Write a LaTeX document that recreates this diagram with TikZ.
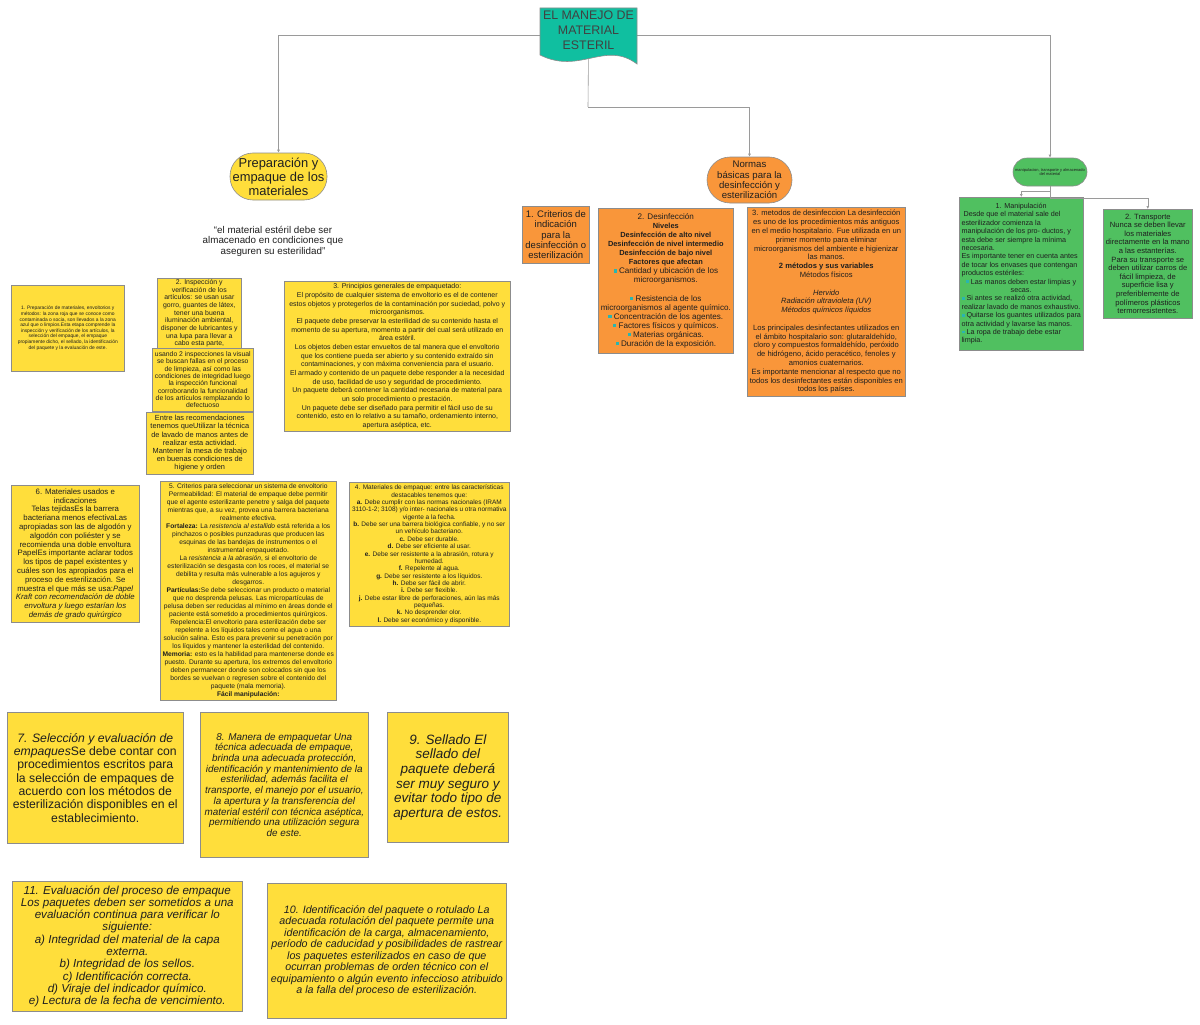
\documentclass[tikz,border=0pt]{standalone}
\usepackage{fontspec}
\setmainfont{Liberation Sans}
\usetikzlibrary{arrows.meta}

\definecolor{boxyellow}{HTML}{FFDE3B}
\definecolor{boxorange}{HTML}{F9963A}
\definecolor{boxgreen}{HTML}{50C060}
\definecolor{titleteal}{HTML}{10BFA0}
\definecolor{boxgray}{HTML}{8C8C8C}
\definecolor{linegray}{HTML}{9A9A9A}
\definecolor{textdark}{HTML}{1F1F1F}
\definecolor{bulletteal}{HTML}{2AB5B0}

\newcommand{\fz}[2]{\fontsize{#1}{#2}\selectfont}
\newcommand{\bul}{{\color{bulletteal}\rule[0.15em]{0.4em}{0.4em}}\ }
\newcommand{\nivel}[1]{{\fz{7.4}{9.1}\bfseries #1}}

\tikzset{
	conn/.style={draw=linegray, line width=0.6pt},
	arr/.style={conn, -{Latex[length=3pt,width=3pt]}},
	box/.style={draw=boxgray, line width=0.6pt, align=center, inner sep=1pt, anchor=north west, text=textdark},
	ybox/.style={box, fill=boxyellow},
	obox/.style={box, fill=boxorange},
	gbox/.style={box, fill=boxgreen},
	pill/.style={draw=boxgray, line width=0.6pt, align=center, inner sep=1pt, text=textdark}
}

\begin{document}
\begin{tikzpicture}[x=1pt,y=-1pt]
	\fill[white] (0,0) rectangle (1200,1025);
	\useasboundingbox (0,0) rectangle (1200,1025);

	% main topics
	\node[pill, fill=boxyellow, rounded corners=23pt, minimum width=97, minimum height=47, font=\fz{12.9}{14}] (prep) at (278.5,176.5) {Preparación y\\empaque de los\\materiales};
	\node[pill, fill=boxorange, rounded corners=23pt, minimum width=85, minimum height=46, font=\fz{9.6}{10.4}] (normas) at (749.5,180) {Normas\\básicas para la\\desinfección y\\esterilización};
	\node[pill, fill=boxgreen, rounded corners=14pt, minimum width=74, minimum height=28, font=\fz{4}{4.8}] (manip) at (1050,172) {manipulacion, transporte y almacenado\\del material};
	\node[minimum width=97, minimum height=44] (title) at (588.5,30) {};

	% connectors
	\coordinate (mid) at (588,107);
	\coordinate (gleft) at (1050,191);
	\coordinate (gright) at (1050,198);
	\draw[arr] ([yshift=-5pt]title.west) -| (prep.north);
	\draw[arr] ([yshift=-5pt]title.east) -| (manip.north);
	\draw[conn] (title.south) -- (mid);
	\draw[arr] (mid) -| (normas.north);

	% title banner
	\filldraw[fill=titleteal, draw=boxgray, line width=0.6pt] (540,8) -- (637,8) -- (637,64) .. controls (605,40) and (580,75) .. (540,55) -- cycle;
	\node[align=center, text=textdark!85, font=\fz{12.4}{15}] at (title) {EL MANEJO DE\\MATERIAL\\ESTERIL};

	\node[align=center, text=textdark, font=\fz{9.8}{10.5}] (quote) at (273,241) {“el material estéril debe ser\\almacenado en condiciones que\\aseguren su esterilidad”};

	% preparacion y empaque
	\node[ybox, minimum width=113, minimum height=86, font=\fz{4.9}{5.6}] (paso1) at (11,285) {1. Preparación de materiales, envoltorios y\\métodos: la zona roja que se conoce como\\contaminada o socia, son llevados a la zona\\azul que o limpios.Esta etapa comprende la\\inspección y verificación de los artículos, la\\selección del empaque, el empaque\\propiamente dicho, el sellado, la identificación\\del paquete y la evaluación de este.};
	\node[ybox, minimum width=84, minimum height=68, font=\fz{6.9}{7.7}] (paso2) at (157,278) {2. Inspección y\\verificación de los\\artículos: se usan usar\\gorro, guantes de látex,\\tener una buena\\iluminación ambiental,\\disponer de lubricantes y\\una lupa para llevar a\\cabo esta parte,};
	\node[ybox, minimum width=101, minimum height=63, font=\fz{6.8}{7.3}] (paso2b) at (152,348) {usando 2 inspecciones la visual\\se buscan fallas en el proceso\\de limpieza, así como las\\condiciones de integridad luego\\la inspección funcional\\corroborando la funcionalidad\\de los artículos remplazando lo\\defectuoso};
	\node[ybox, minimum width=107, minimum height=62, font=\fz{7.4}{8.2}] (paso2c) at (146,412) {Entre las recomendaciones\\tenemos queUtilizar la técnica\\de lavado de manos antes de\\realizar esta actividad.\\Mantener la mesa de trabajo\\en buenas condiciones de\\higiene y orden};
	\node[ybox, minimum width=226, minimum height=150, font=\fz{7}{8.65}] (paso3) at (284,281) {3. Principios generales de empaquetado:\\El propósito de cualquier sistema de envoltorio es el de contener\\estos objetos y protegerlos de la contaminación por suciedad, polvo y\\microorganismos.\\El paquete debe preservar la esterilidad de su contenido hasta el\\momento de su apertura, momento a partir del cual será utilizado en\\área estéril.\\Los objetos deben estar envueltos de tal manera que el envoltorio\\que los contiene pueda ser abierto y su contenido extraído sin\\contaminaciones, y con máxima conveniencia para el usuario.\\El armado y contenido de un paquete debe responder a la necesidad\\de uso, facilidad de uso y seguridad de procedimiento.\\Un paquete deberá contener la cantidad necesaria de material para\\un solo procedimiento o prestación.\\Un paquete debe ser diseñado para permitir el fácil uso de su\\contenido, esto en lo relativo a su tamaño, ordenamiento interno,\\apertura aséptica, etc.};
	\node[ybox, minimum width=128, minimum height=137, font=\fz{7.8}{8.8}] (paso6) at (11,485) {6. Materiales usados e\\indicaciones\\Telas tejidasEs la barrera\\bacteriana menos efectivaLas\\apropiadas son las de algodón y\\algodón con poliéster y se\\recomienda una doble envoltura\\PapelEs importante aclarar todos\\los tipos de papel existentes y\\cuáles son los apropiados para el\\proceso de esterilización. Se\\muestra el que más se usa:\textit{Papel}\\\textit{Kraft con recomendación de doble}\\\textit{envoltura y luego estarían los}\\\textit{demás de grado quirúrgico}};
	\node[ybox, minimum width=176, minimum height=219, font=\fz{6.7}{8}] (paso5) at (160,481) {5. Criterios para seleccionar un sistema de envoltorio\\Permeabilidad: El material de empaque debe permitir\\que el agente esterilizante penetre y salga del paquete\\mientras que, a su vez, provea una barrera bacteriana\\realmente efectiva.\\\textbf{Fortaleza:} La \textit{resistencia al estallido} está referida a los\\pinchazos o posibles punzaduras que producen las\\esquinas de las bandejas de instrumentos o el\\instrumental empaquetado.\\La \textit{resistencia a la abrasión}, si el envoltorio de\\esterilización se desgasta con los roces, el material se\\debilita y resulta más vulnerable a los agujeros y\\desgarros.\\\textbf{Partículas:}Se debe seleccionar un producto o material\\que no desprenda pelusas. Las micropartículas de\\pelusa deben ser reducidas al mínimo en áreas donde el\\paciente está sometido a procedimientos quirúrgicos.\\Repelencia:El envoltorio para esterilización debe ser\\repelente a los líquidos tales como el agua o una\\solución salina. Esto es para prevenir su penetración por\\los líquidos y mantener la esterilidad del contenido.\\\textbf{Memoria:} esto es la habilidad para mantenerse donde es\\puesto. Durante su apertura, los extremos del envoltorio\\deben permanecer donde son colocados sin que los\\bordes se vuelvan o regresen sobre el contenido del\\paquete (mala memoria).\\\textbf{Fácil manipulación:}};
	\node[ybox, minimum width=160, minimum height=144, font=\fz{6.5}{7.35}] (paso4) at (349,482) {4. Materiales de empaque: entre las características\\destacables tenemos que:\\\textbf{a.} Debe cumplir con las normas nacionales (IRAM\\3110-1-2; 3108) y/o inter- nacionales u otra normativa\\vigente a la fecha.\\\textbf{b.} Debe ser una barrera biológica confiable, y no ser\\un vehículo bacteriano.\\\textbf{c.} Debe ser durable.\\\textbf{d.} Debe ser eficiente al usar.\\\textbf{e.} Debe ser resistente a la abrasión, rotura y\\humedad.\\\textbf{f.} Repelente al agua.\\\textbf{g.} Debe ser resistente a los líquidos.\\\textbf{h.} Debe ser fácil de abrir.\\\textbf{i.} Debe ser flexible.\\\textbf{j.} Debe estar libre de perforaciones, aún las más\\pequeñas.\\\textbf{k.} No desprender olor.\\\textbf{l.} Debe ser económico y disponible.};
	\node[ybox, minimum width=176, minimum height=131, font=\fz{12.2}{13.3}] (paso7) at (7,712) {\textit{7. Selección y evaluación de}\\\textit{empaques}Se debe contar con\\procedimientos escritos para\\la selección de empaques de\\acuerdo con los métodos de\\esterilización disponibles en el\\establecimiento.};
	\node[ybox, minimum width=168, minimum height=145, font=\fz{9.9}{10.7}\itshape] (paso8) at (200,712) {8. Manera de empaquetar Una\\técnica adecuada de empaque,\\brinda una adecuada protección,\\identificación y mantenimiento de la\\esterilidad, además facilita el\\transporte, el manejo por el usuario,\\la apertura y la transferencia del\\material estéril con técnica aséptica,\\permitiendo una utilización segura\\de este.};
	\node[ybox, minimum width=121, minimum height=130, font=\fz{13.5}{14.7}\itshape] (paso9) at (387,712) {9. Sellado El\\sellado del\\paquete deberá\\ser muy seguro y\\evitar todo tipo de\\apertura de estos.};
	\node[ybox, minimum width=230, minimum height=130, font=\fz{11.6}{12.3}\itshape] (paso11) at (12,881) {11. Evaluación del proceso de empaque\\Los paquetes deben ser sometidos a una\\evaluación continua para verificar lo\\siguiente:\\a) Integridad del material de la capa\\externa.\\b) Integridad de los sellos.\\c) Identificación correcta.\\d) Viraje del indicador químico.\\e) Lectura de la fecha de vencimiento.};
	\node[ybox, minimum width=239, minimum height=135, font=\fz{10.7}{11.5}\itshape] (paso10) at (267,883) {10. Identificación del paquete o rotulado La\\adecuada rotulación del paquete permite una\\identificación de la carga, almacenamiento,\\período de caducidad y posibilidades de rastrear\\los paquetes esterilizados en caso de que\\ocurran problemas de orden técnico con el\\equipamiento o algún evento infeccioso atribuido\\a la falla del proceso de esterilización.};

	% normas basicas
	\node[obox, minimum width=67, minimum height=57, font=\fz{9.5}{10.4}] (crit) at (522,206) {1. Criterios de\\indicación\\para la\\desinfección o\\esterilización};
	\node[obox, minimum width=135, minimum height=145, font=\fz{8.1}{9.1}] (desinf) at (598,208) {2. Desinfección\\\nivel{Niveles}\\\nivel{Desinfección de alto nivel}\\\nivel{Desinfección de nivel intermedio}\\\nivel{Desinfección de bajo nivel}\\\nivel{Factores que afectan}\\\bul Cantidad y ubicación de los\\microorganismos.\\[9.1pt]\bul Resistencia de los\\microorganismos al agente químico.\\\bul Concentración de los agentes.\\\bul Factores físicos y químicos.\\\bul Materias orgánicas.\\\bul Duración de la exposición.};
	\node[obox, minimum width=158, minimum height=189, font=\fz{7.6}{8.8}] (metodos) at (747,207) {3. metodos de desinfeccion La desinfección\\es uno de los procedimientos más antiguos\\en el medio hospitalario. Fue utilizada en un\\primer momento para eliminar\\microorganismos del ambiente e higienizar\\las manos.\\\textbf{2 métodos y sus variables}\\Métodos físicos\\[8.8pt]\textit{Hervido}\\\textit{Radiación ultravioleta (UV)}\\\textit{Métodos químicos líquidos}\\[8.8pt]Los principales desinfectantes utilizados en\\el ámbito hospitalario son: glutaraldehído,\\cloro y compuestos formaldehído, peróxido\\de hidrógeno, ácido peracético, fenoles y\\amonios cuaternarios.\\Es importante mencionar al respecto que no\\todos los desinfectantes están disponibles en\\todos los países.};

	% manipulacion
	\node[gbox, align=left, minimum width=124, minimum height=153, font=\fz{7.2}{8.4}] (manip1) at (959,197) {\makebox[119pt]{1. Manipulación}\\\hspace{2pt}Desde que el material sale del\\esterilizador comienza la\\manipulación de los pro- ductos, y\\esta debe ser siempre la mínima\\necesaria.\\Es importante tener en cuenta antes\\de tocar los envases que contengan\\productos estériles:\\\makebox[119pt]{\bul Las manos deben estar limpias y}\\\makebox[119pt]{secas.}\\\bul Si antes se realizó otra actividad,\\realizar lavado de manos exhaustivo.\\\bul Quitarse los guantes utilizados para\\otra actividad y lavarse las manos.\\\bul La ropa de trabajo debe estar\\limpia.};
	\node[gbox, minimum width=89, minimum height=109, font=\fz{7.6}{8.6}] (transp) at (1103,209) {2. Transporte\\Nunca se deben llevar\\los materiales\\directamente en la mano\\a las estanterías.\\Para su transporte se\\deben utilizar carros de\\fácil limpieza, de\\superficie lisa y\\preferiblemente de\\polímeros plásticos\\termorresistentes.};
	\draw[conn] (manip.south) -- (gright);
	\draw[arr] (gleft) -| (manip1.north);
	\draw[arr] (gright) -| (transp.north);
\end{tikzpicture}
\end{document}
